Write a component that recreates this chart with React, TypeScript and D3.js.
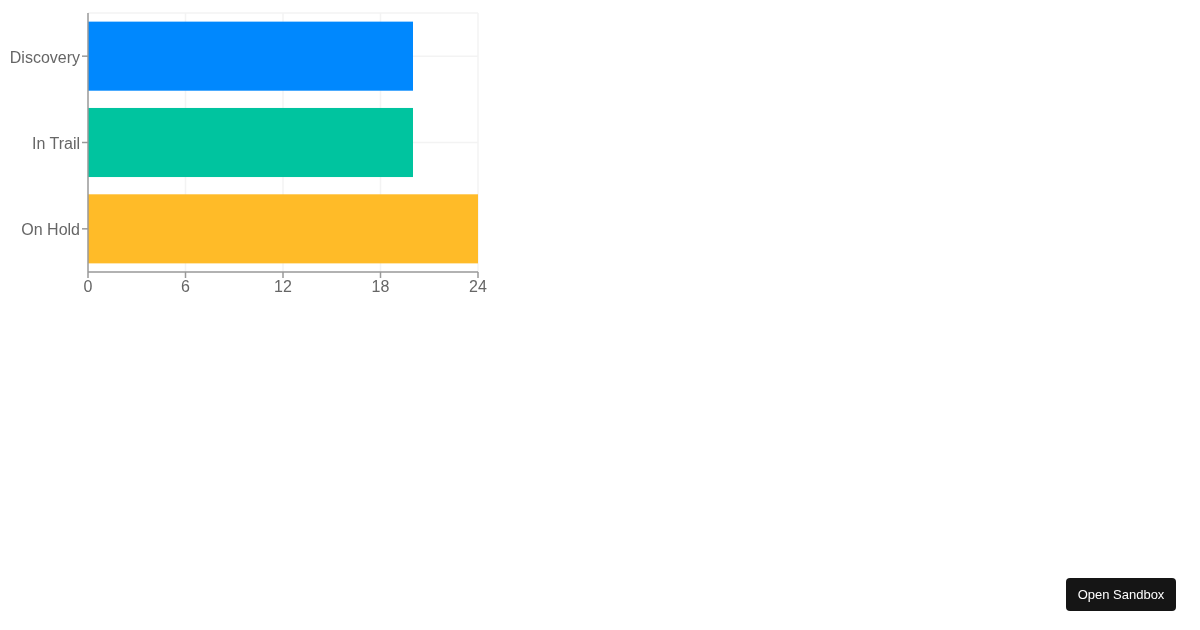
import React from 'react';
import * as d3 from 'd3';

const categories = ['Discovery', 'In Trail', 'On Hold'];
const values = [20, 20, 24];
const colors = ['#0088FE', '#00C49F', '#FFBB28'];
const xTicks = [0, 6, 12, 18, 24];

const left = 88;
const right = 478;
const top = 13;
const bottom = 272;

export default function App() {
  const x = d3.scaleLinear().domain([0, 24]).range([left, right]);
  const band = d3.scaleBand().domain(categories).range([top, bottom]);

  return (
    <svg
      width={1200}
      height={630}
      style={{ position: 'fixed', left: 0, top: 0 }}
      fontFamily="'Liberation Sans', Arial, sans-serif"
    >
      {/* grid */}
      <g stroke="#f3f3f3" strokeWidth={1.5} fill="none">
        <line x1={left} x2={right} y1={top} y2={top} />
        {categories.slice(0, 2).map((c) => {
          const cy = (band(c) ?? 0) + band.bandwidth() / 2;
          return <line key={c} x1={left} x2={right} y1={cy} y2={cy} />;
        })}
        {xTicks.slice(1).map((t) => (
          <line key={t} x1={x(t)} x2={x(t)} y1={top} y2={bottom} />
        ))}
      </g>

      {/* bars */}
      {categories.map((c, i) => {
        const cy = (band(c) ?? 0) + band.bandwidth() * 0.1;
        return (
          <rect
            key={c}
            x={x(0)}
            y={cy}
            width={x(values[i]) - x(0)}
            height={band.bandwidth() * 0.8}
            fill={colors[i]}
          />
        );
      })}

      {/* y axis */}
      <g stroke="#999" strokeWidth={1.5}>
        <line x1={left} x2={left} y1={top} y2={bottom} />
        {categories.map((c) => {
          const cy = (band(c) ?? 0) + band.bandwidth() / 2;
          return <line key={c} x1={left - 6} x2={left} y1={cy} y2={cy} />;
        })}
      </g>
      <g fill="#666" fontSize={16} textAnchor="end">
        {categories.map((c) => {
          const cy = (band(c) ?? 0) + band.bandwidth() / 2;
          return (
            <text key={c} x={left - 8} y={cy + 1} dy="0.35em">
              {c}
            </text>
          );
        })}
      </g>

      {/* x axis */}
      <g stroke="#999" strokeWidth={1.5}>
        <line x1={left} x2={right} y1={bottom} y2={bottom} />
        {xTicks.map((t) => (
          <line key={t} x1={x(t)} x2={x(t)} y1={bottom} y2={bottom + 6} />
        ))}
      </g>
      <g fill="#666" fontSize={16} textAnchor="middle">
        {xTicks.map((t) => (
          <text key={t} x={x(t)} y={bottom + 20}>
            {t}
          </text>
        ))}
      </g>

      {/* button */}
      <rect x={1066} y={578} width={110} height={33} rx={4} fill="#151515" />
      <text
        x={1121}
        y={594.5}
        dy="0.35em"
        fill="#fff"
        fontSize={13}
        textAnchor="middle"
      >
        Open Sandbox
      </text>
    </svg>
  );
}
